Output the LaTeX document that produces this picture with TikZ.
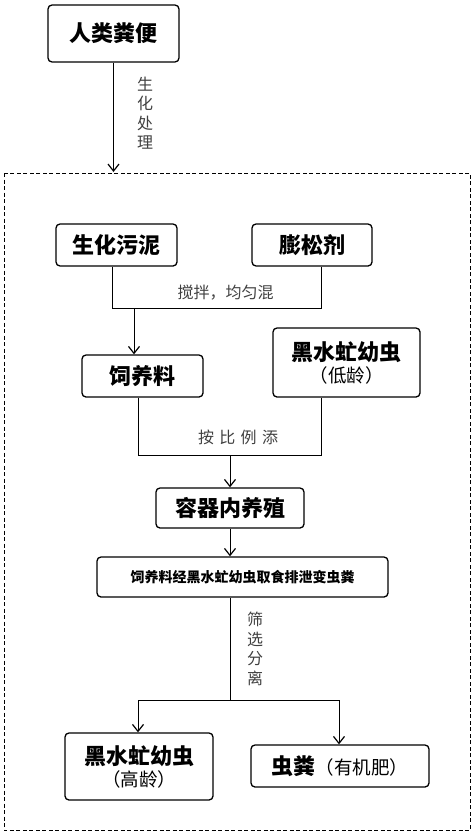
\documentclass[tikz,border=0pt]{standalone}
\usepackage{fontspec}
\setmainfont{Noto Sans CJK SC}
\usetikzlibrary{arrows.meta}
\newcommand{\agefont}{\fontsize{18.5}{20}\selectfont\mdseries}
\newcommand{\wideparen}[1]{\makebox[1em][r]{（}#1\makebox[1em][l]{）}}

\begin{document}
\begin{tikzpicture}[
        x=1pt,y=-1pt,
        stage/.style={draw,line width=1.3pt,rounded corners=4pt,align=center,inner sep=0pt,
            font=\fontsize{22}{24}\selectfont\bfseries},
        label/.style={text=black!75,align=center,inner sep=0pt,font=\fontsize{16}{19.5}\selectfont},
        flow/.style={line width=0.9pt},
        >={Straight Barb[length=7pt,width=11pt,line width=1.2pt]}
    ]

    \useasboundingbox (0,0) rectangle (474,835);

    \draw[dashed,line width=0.9pt,dash pattern=on 4pt off 2.5pt] (4,173) rectangle (470,830);

    \node[stage,minimum width=131pt,minimum height=57pt] (feces) at (113.5,33.5) {人类粪便};
    \node[stage,minimum width=121pt,minimum height=42pt] (sludge) at (116.5,245) {生化污泥};
    \node[stage,minimum width=120pt,minimum height=42pt] (bulk) at (312,245) {膨松剂};
    \node[stage,minimum width=121pt,minimum height=42pt] (feed) at (142.5,376) {饲养料};
    \node[stage,minimum width=147pt,minimum height=69pt] (young) at (346.5,362.5)
        {黑水虻幼虫\\[-2pt]{\agefont\wideparen{低龄}}};
    \node[stage,minimum width=148pt,minimum height=40pt] (rear) at (230,508) {容器内养殖};
    \node[stage,minimum width=291pt,minimum height=40pt,font=\fontsize{14}{16}\selectfont\bfseries]
        (eat) at (242.5,577) {饲养料经黑水虻幼虫取食排泄变虫粪};
    \node[stage,minimum width=148pt,minimum height=67pt] (old) at (139,766.5)
        {黑水虻幼虫\\[-2pt]{\agefont\wideparen{高龄}}};
    \node[stage,minimum width=178pt,minimum height=42pt] (frass) at (340,766)
        {虫粪{\agefont\wideparen{有机肥}}};

    \coordinate (inbox) at (113.5,172);
    \coordinate (mixleft) at (112,308);
    \coordinate (mixdown) at (134,308);
    \coordinate (addleft) at (138,455);
    \coordinate (adddown) at (230,455);
    \coordinate (split) at (230,700);

    \draw[flow,->] (feces) -- (inbox);
    \draw[flow] (sludge.south -| mixleft) -- (mixleft) -| (bulk.south -| 321,0);
    \draw[flow,->] (mixdown) -- (mixdown |- feed.north);
    \draw[flow] (feed.south -| addleft) -- (addleft) -| (young.south -| 321,0);
    \draw[flow,->] (adddown) -- (rear.north);
    \draw[flow,->] (rear) -- (eat.north -| rear);
    \draw[flow] (eat.south -| split) -- (split);
    \draw[flow,->] (split) -| (old.north -| 138,0);
    \draw[flow,->] (split) -| (frass.north -| 339,0);

    \node[label] (treat) at (145,113) {生\\化\\处\\理};
    \node[label] (mix) at (225.5,293) {搅拌，均匀混};
    \node[label] (ratio) at (238,437) {按\,\,比\,\,例\,\,添};
    \node[label] (sieve) at (255,649) {筛\\选\\分\\离};

\end{tikzpicture}
\end{document}
